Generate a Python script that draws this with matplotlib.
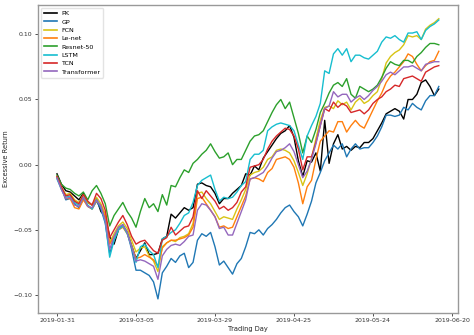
import matplotlib
matplotlib.use("Agg")
import matplotlib.pyplot as plt
import numpy as np

tick_pos = [0, 18, 36, 54, 72, 90]
tick_labels = ["2019-01-31", "2019-03-05", "2019-03-29", "2019-04-25", "2019-05-24", "2019-06-20"]

pk = [-0.007, -0.015, -0.020, -0.021, -0.024, -0.027, -0.022, -0.029, -0.031, -0.026,
      -0.036, -0.040, -0.055, -0.061, -0.050, -0.047, -0.052, -0.062, -0.072, -0.066,
      -0.060, -0.069, -0.069, -0.068, -0.057, -0.055, -0.038, -0.041, -0.037, -0.033,
      -0.035, -0.033, -0.015, -0.014, -0.016, -0.017, -0.022, -0.030, -0.026, -0.026,
      -0.022, -0.019, -0.016, -0.007, -0.008, -0.001, -0.004, 0.005, 0.010, 0.015,
      0.020, 0.024, 0.026, 0.030, 0.021, 0.003, -0.009, 0.003, 0.002, 0.009,
      -0.005, 0.034, 0.001, 0.016, 0.023, 0.012, 0.014, 0.011, 0.014, 0.013,
      0.017, 0.017, 0.020, 0.026, 0.032, 0.039, 0.041, 0.043, 0.041, 0.035,
      0.050, 0.050, 0.054, 0.063, 0.065, 0.060, 0.053, 0.058]

gp = [-0.010, -0.018, -0.027, -0.026, -0.030, -0.033, -0.026, -0.032, -0.034, -0.028,
      -0.034, -0.045, -0.068, -0.058, -0.050, -0.046, -0.052, -0.065, -0.081, -0.081,
      -0.083, -0.085, -0.090, -0.103, -0.083, -0.078, -0.072, -0.075, -0.070, -0.068,
      -0.079, -0.075, -0.058, -0.053, -0.055, -0.052, -0.063, -0.077, -0.074, -0.079,
      -0.084, -0.076, -0.072, -0.063, -0.052, -0.053, -0.050, -0.054, -0.049, -0.046,
      -0.042, -0.037, -0.033, -0.031, -0.036, -0.040, -0.047, -0.038, -0.028, -0.014,
      -0.006, 0.003, 0.009, 0.015, 0.012, 0.016, 0.006, 0.012, 0.016, 0.012,
      0.013, 0.013, 0.017, 0.022, 0.029, 0.038, 0.038, 0.037, 0.038, 0.044,
      0.042, 0.047, 0.044, 0.042, 0.049, 0.053, 0.053, 0.060]

fcn = [-0.009, -0.017, -0.023, -0.022, -0.027, -0.029, -0.023, -0.029, -0.031, -0.025,
       -0.030, -0.038, -0.060, -0.053, -0.047, -0.044, -0.049, -0.058, -0.067, -0.064,
       -0.063, -0.070, -0.074, -0.082, -0.063, -0.060, -0.058, -0.059, -0.056, -0.055,
       -0.053, -0.045, -0.022, -0.021, -0.026, -0.030, -0.036, -0.042, -0.040, -0.041,
       -0.042, -0.034, -0.027, -0.019, -0.008, -0.006, -0.005, -0.002, 0.004, 0.006,
       0.011, 0.012, 0.011, 0.009, 0.003, -0.006, -0.016, -0.007, 0.005, 0.020,
       0.034, 0.044, 0.045, 0.043, 0.049, 0.046, 0.048, 0.042, 0.048, 0.051,
       0.047, 0.049, 0.053, 0.056, 0.066, 0.078, 0.083, 0.086, 0.088, 0.092,
       0.099, 0.098, 0.099, 0.096, 0.104, 0.107, 0.109, 0.112]

lenet = [-0.010, -0.018, -0.026, -0.026, -0.033, -0.034, -0.027, -0.032, -0.034, -0.028,
         -0.031, -0.040, -0.061, -0.055, -0.050, -0.048, -0.053, -0.062, -0.072, -0.071,
         -0.069, -0.071, -0.073, -0.078, -0.064, -0.060, -0.058, -0.058, -0.057, -0.056,
         -0.054, -0.048, -0.026, -0.025, -0.030, -0.035, -0.040, -0.048, -0.047, -0.049,
         -0.048, -0.040, -0.032, -0.024, -0.011, -0.010, -0.011, -0.013, -0.006, -0.003,
         0.004, 0.005, 0.006, 0.004, -0.002, -0.014, -0.030, -0.017, -0.012, 0.004,
         0.018, 0.022, 0.026, 0.025, 0.033, 0.033, 0.025, 0.030, 0.034, 0.030,
         0.028, 0.035, 0.042, 0.049, 0.055, 0.063, 0.068, 0.071, 0.075, 0.079,
         0.085, 0.083, 0.077, 0.072, 0.076, 0.079, 0.080, 0.087]

resnet = [-0.008, -0.015, -0.018, -0.019, -0.022, -0.024, -0.021, -0.027, -0.020, -0.016,
          -0.022, -0.030, -0.047, -0.039, -0.034, -0.029, -0.036, -0.041, -0.048, -0.036,
          -0.026, -0.033, -0.030, -0.036, -0.023, -0.031, -0.016, -0.017, -0.010, -0.004,
          -0.006, 0.001, 0.004, 0.008, 0.011, 0.016, 0.010, 0.005, 0.006, 0.009,
          0.000, 0.004, 0.004, 0.011, 0.018, 0.022, 0.023, 0.026, 0.033, 0.040,
          0.046, 0.050, 0.043, 0.048, 0.036, 0.024, 0.009, 0.022, 0.017, 0.027,
          0.040, 0.047, 0.055, 0.061, 0.063, 0.060, 0.066, 0.054, 0.051, 0.060,
          0.058, 0.056, 0.058, 0.061, 0.067, 0.074, 0.079, 0.077, 0.076, 0.080,
          0.080, 0.078, 0.083, 0.086, 0.090, 0.093, 0.093, 0.092]

lstm = [-0.011, -0.019, -0.025, -0.024, -0.029, -0.031, -0.025, -0.031, -0.034, -0.027,
        -0.032, -0.044, -0.071, -0.058, -0.050, -0.047, -0.053, -0.063, -0.075, -0.063,
        -0.061, -0.066, -0.069, -0.079, -0.057, -0.055, -0.052, -0.050, -0.045, -0.039,
        -0.037, -0.029, -0.016, -0.012, -0.010, -0.008, -0.019, -0.028, -0.025, -0.026,
        -0.025, -0.021, -0.016, -0.013, 0.004, 0.008, 0.008, 0.011, 0.026, 0.029,
        0.031, 0.032, 0.031, 0.030, 0.026, 0.015, 0.004, 0.022, 0.030, 0.037,
        0.047, 0.072, 0.070, 0.085, 0.089, 0.084, 0.089, 0.079, 0.084, 0.084,
        0.082, 0.081, 0.084, 0.087, 0.094, 0.098, 0.097, 0.099, 0.096, 0.094,
        0.101, 0.101, 0.102, 0.096, 0.103, 0.106, 0.108, 0.111]

tcn = [-0.009, -0.017, -0.024, -0.023, -0.028, -0.030, -0.023, -0.028, -0.031, -0.022,
       -0.026, -0.035, -0.056, -0.050, -0.044, -0.039, -0.046, -0.055, -0.061, -0.059,
       -0.058, -0.062, -0.066, -0.068, -0.058, -0.056, -0.048, -0.054, -0.051, -0.048,
       -0.047, -0.040, -0.020, -0.026, -0.020, -0.024, -0.028, -0.034, -0.032, -0.035,
       -0.033, -0.029, -0.021, -0.017, -0.002, -0.001, 0.000, 0.004, 0.012, 0.018,
       0.022, 0.025, 0.028, 0.027, 0.022, 0.012, -0.004, 0.006, 0.006, 0.017,
       0.030, 0.043, 0.041, 0.048, 0.044, 0.047, 0.045, 0.040, 0.041, 0.042,
       0.039, 0.042, 0.047, 0.050, 0.052, 0.056, 0.058, 0.061, 0.060, 0.066,
       0.067, 0.068, 0.066, 0.064, 0.071, 0.073, 0.075, 0.076]

transformer = [-0.010, -0.019, -0.026, -0.025, -0.031, -0.032, -0.025, -0.032, -0.033, -0.027,
               -0.032, -0.043, -0.065, -0.055, -0.048, -0.046, -0.052, -0.063, -0.074, -0.073,
               -0.074, -0.076, -0.078, -0.088, -0.070, -0.065, -0.062, -0.061, -0.062, -0.059,
               -0.055, -0.054, -0.035, -0.030, -0.031, -0.035, -0.040, -0.049, -0.048, -0.054,
               -0.054, -0.045, -0.036, -0.027, -0.011, -0.010, -0.008, -0.006, -0.001, 0.005,
               0.010, 0.011, 0.013, 0.016, 0.010, 0.000, -0.010, -0.005, 0.004, 0.016,
               0.030, 0.043, 0.045, 0.056, 0.052, 0.054, 0.054, 0.048, 0.051, 0.053,
               0.050, 0.053, 0.057, 0.060, 0.064, 0.069, 0.071, 0.069, 0.072, 0.075,
               0.075, 0.076, 0.074, 0.072, 0.077, 0.078, 0.079, 0.079]

series = [
    ("PK", pk, "black"),
    ("GP", gp, "#1f77b4"),
    ("FCN", fcn, "#d8c414"),
    ("Le-net", lenet, "#ff7f0e"),
    ("Resnet-50", resnet, "#2ca02c"),
    ("LSTM", lstm, "#17becf"),
    ("TCN", tcn, "#d62728"),
    ("Transformer", transformer, "#9467bd"),
]

fig = plt.figure(figsize=(4.74, 3.35), dpi=100)
ax = fig.add_axes([0.080, 0.066, 0.886, 0.920])
for name, vals, color in series:
    ax.plot(np.arange(len(vals)), vals, color=color, lw=1.0, label=name)

ax.set_xticks(tick_pos)
ax.set_xticklabels(tick_labels)
ax.set_yticks([-0.10, -0.05, 0.00, 0.05, 0.10])
ax.set_yticklabels(["\u22120.10", "\u22120.05", "0.00", "0.05", "0.10"])
ax.tick_params(labelsize=4.5, length=2, width=0.6, pad=2, colors="#333333")
for s in ax.spines.values():
    s.set_color("#999999")
    s.set_linewidth(1.0)
ax.set_xlabel("Trading Day", fontsize=4.8, labelpad=2, color="#222222")
ax.set_ylabel("Excessive Return", fontsize=4.8, labelpad=3, color="#222222")
leg = ax.legend(loc="upper left", fontsize=4.6, handlelength=2.0, labelspacing=0.45,
                borderpad=0.45, handletextpad=0.7, framealpha=0.8, edgecolor="#dddddd")
for line in leg.get_lines():
    line.set_linewidth(1.2)

fig.savefig("out.png", dpi=100)
